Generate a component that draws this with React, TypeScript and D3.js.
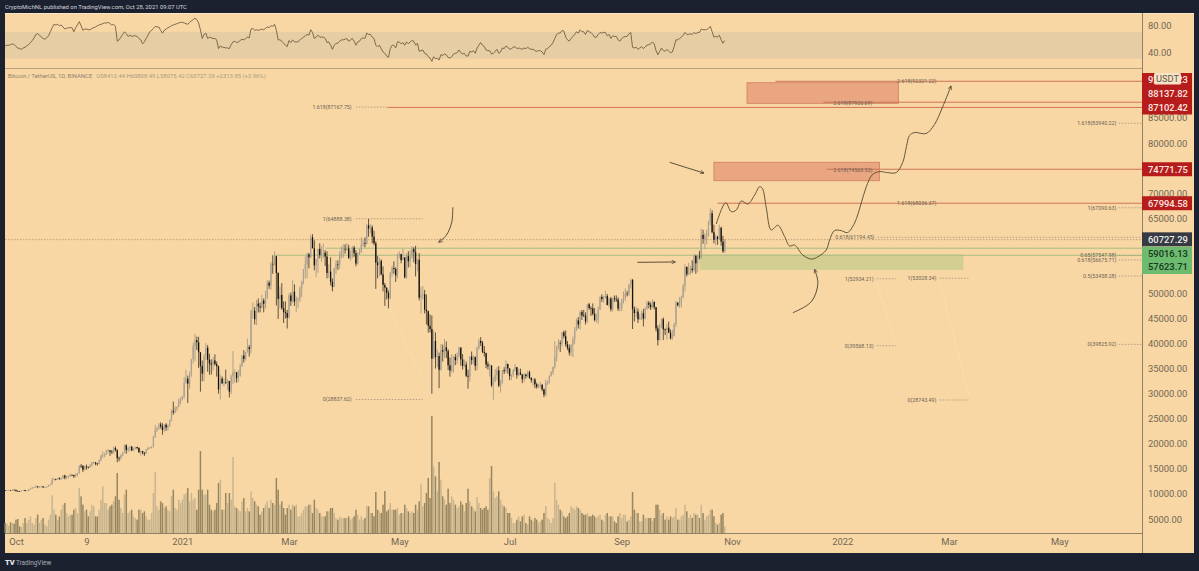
import React, { useEffect, useRef } from 'react';
import * as d3 from 'd3';

// daily candles from 2020-09-25, one line per month, prices in thousands of USDT
const closes = [
  10.7, 10.7, 10.77, 10.69, 10.84, 10.78,
  10.62, 10.57, 10.55, 10.67, 10.79, 10.6, 10.67, 10.92, 11.05, 11.3, 11.37, 11.54, 11.43, 11.43, 11.5, 11.32, 11.36, 11.5, 11.75, 11.92, 12.8, 12.97, 12.93, 13.12, 13.03, 13.07, 13.65, 13.27, 13.46, 13.56, 13.8,
  13.76, 13.55, 14.02, 14.15, 15.59, 15.58, 14.83, 15.48, 15.33, 15.3, 15.7, 16.3, 16.32, 16.07, 15.96, 16.72, 17.66, 17.78, 17.82, 18.66, 18.7, 18.42, 18.37, 19.16, 18.72, 17.15, 17.14, 17.72, 18.18, 19.7,
  18.77, 19.22, 19.43, 18.65, 19.15, 19.36, 19.17, 18.32, 18.55, 18.25, 18.03, 18.8, 19.17, 19.27, 19.43, 21.38, 22.8, 23.1, 23.85, 23.48, 22.75, 23.82, 23.25, 23.72, 24.7, 26.49, 26.28, 27.04, 27.37, 28.88, 28.97,
  29.41, 32.2, 33.0, 31.99, 33.99, 36.82, 39.47, 40.67, 40.24, 38.24, 35.54, 34.01, 37.39, 39.16, 36.77, 36.02, 35.79, 36.63, 35.89, 35.47, 30.85, 33.0, 32.07, 32.28, 32.25, 32.51, 30.4, 33.43, 34.26, 34.26, 33.09,
  33.5, 35.47, 37.62, 36.94, 38.29, 39.26, 38.89, 46.45, 46.53, 44.85, 47.97, 47.4, 47.19, 48.58, 47.91, 49.13, 52.12, 51.55, 55.9, 55.84, 57.41, 54.09, 48.89, 49.68, 47.05, 46.28, 46.11, 45.14,
  49.59, 48.44, 50.35, 48.37, 48.76, 48.88, 50.97, 52.39, 54.88, 55.85, 57.77, 57.22, 61.19, 59.0, 55.6, 56.9, 58.9, 57.65, 58.03, 58.1, 57.35, 54.08, 54.34, 52.3, 51.29, 55.03, 55.82, 55.78, 57.63, 58.76, 58.8,
  58.73, 58.97, 57.06, 58.2, 59.13, 58.02, 55.95, 58.08, 58.13, 59.77, 60.0, 59.86, 63.58, 62.96, 63.16, 61.33, 60.0, 56.15, 55.66, 56.47, 53.8, 51.7, 51.15, 50.1, 49.05, 54.03, 55.07, 54.88, 53.57, 57.75,
  57.83, 56.65, 57.2, 53.2, 57.45, 56.4, 57.36, 58.84, 58.24, 55.85, 56.7, 49.15, 49.68, 49.84, 46.76, 46.43, 43.55, 42.9, 37.0, 40.5, 37.3, 37.5, 34.77, 38.7, 38.4, 39.27, 38.5, 35.66, 34.6, 35.68, 37.3,
  36.69, 37.57, 39.2, 36.85, 35.52, 35.8, 33.58, 33.4, 37.39, 36.69, 37.34, 35.55, 39.02, 40.52, 40.14, 38.35, 38.1, 35.82, 35.48, 35.6, 31.68, 32.5, 33.68, 34.66, 31.6, 32.28, 34.7, 34.5, 35.9, 35.04,
  33.5, 33.8, 34.7, 35.29, 33.69, 34.23, 33.86, 32.88, 33.8, 33.5, 34.26, 33.09, 32.73, 32.82, 31.87, 31.38, 31.52, 31.78, 30.84, 29.79, 32.14, 32.3, 33.6, 34.29, 35.35, 37.34, 39.4, 40.03, 40.01, 42.24, 41.46,
  39.85, 39.15, 38.2, 39.72, 40.87, 42.84, 44.61, 43.8, 46.28, 45.6, 45.55, 44.4, 47.82, 47.09, 47.02, 45.94, 44.69, 44.74, 46.76, 49.32, 48.87, 49.28, 49.5, 47.7, 48.96, 46.84, 49.07, 48.9, 48.8, 46.98, 47.1,
  48.81, 49.25, 49.94, 49.9, 51.76, 52.66, 46.86, 46.07, 46.37, 44.85, 45.15, 46.06, 44.96, 47.1, 48.12, 47.75, 47.26, 48.3, 47.25, 43.0, 40.7, 43.55, 44.86, 42.84, 42.7, 43.16, 42.17, 41.03, 41.5, 43.8,
  48.14, 47.63, 48.2, 49.22, 51.47, 55.31, 53.8, 53.95, 54.95, 54.66, 57.47, 56.0, 57.37, 57.35, 61.67, 60.88, 61.53, 62.0, 64.28, 66.0, 62.2, 60.69, 61.3, 60.85, 63.08, 60.33, 58.41, 60.73,
];

const highs = [
  10.76, 10.78, 10.8, 10.78, 10.86, 10.85,
  10.92, 10.66, 10.6, 10.7, 10.8, 10.8, 10.7, 10.95, 11.1, 11.32, 11.4, 11.72, 11.55, 11.55, 11.62, 11.54, 11.42, 11.5, 11.8, 12.0, 13.2, 13.2, 13.03, 13.15, 13.35, 13.24, 13.79, 13.84, 13.62, 13.68, 14.1,
  13.86, 13.83, 14.07, 14.25, 15.75, 15.96, 15.77, 15.65, 15.85, 15.48, 15.97, 16.34, 16.48, 16.33, 16.17, 16.88, 17.86, 18.48, 18.14, 18.8, 18.97, 18.75, 18.77, 19.42, 19.48, 18.92, 17.45, 17.9, 18.35, 19.86,
  19.9, 19.3, 19.6, 19.55, 19.2, 19.42, 19.42, 19.3, 18.65, 18.6, 18.3, 18.95, 19.4, 19.35, 19.55, 21.56, 23.8, 23.3, 24.17, 24.3, 24.1, 23.84, 24.1, 23.8, 24.8, 26.87, 28.42, 27.5, 27.41, 28.99, 29.3,
  29.6, 33.3, 34.78, 33.6, 34.4, 36.94, 40.18, 41.95, 41.38, 41.35, 38.26, 36.6, 37.85, 40.1, 39.7, 37.95, 36.85, 37.3, 37.85, 36.4, 35.6, 33.83, 33.45, 33.07, 34.8, 32.9, 32.55, 33.78, 38.5, 34.85, 34.35,
  34.7, 35.98, 37.65, 38.7, 38.3, 40.95, 39.7, 46.8, 48.2, 47.3, 48.68, 48.98, 48.15, 49.7, 49.0, 50.5, 52.62, 52.55, 56.3, 57.6, 58.35, 57.5, 54.2, 51.37, 52.05, 48.4, 48.4, 46.7,
  50.0, 50.2, 52.6, 51.8, 49.4, 49.2, 51.4, 52.5, 54.9, 57.4, 58.15, 58.05, 61.7, 61.8, 60.6, 56.9, 58.9, 60.0, 59.45, 59.9, 58.6, 58.4, 55.8, 57.2, 53.0, 55.1, 56.6, 56.6, 58.4, 59.4, 59.8,
  59.8, 60.0, 59.7, 58.5, 59.4, 59.5, 58.65, 58.2, 58.9, 61.2, 60.7, 61.2, 63.8, 64.85, 63.8, 63.6, 62.5, 60.4, 57.5, 57.1, 56.8, 55.4, 52.1, 51.2, 50.6, 54.3, 55.5, 56.4, 55.2, 58.0,
  58.4, 57.9, 58.9, 57.2, 58.0, 58.4, 58.6, 59.4, 59.2, 59.5, 56.9, 58.0, 51.3, 51.5, 50.7, 49.8, 46.6, 45.8, 45.6, 42.6, 42.2, 38.8, 38.2, 39.9, 39.8, 40.9, 40.4, 38.9, 37.2, 37.9, 37.5,
  37.9, 38.2, 39.4, 39.25, 37.9, 36.8, 36.4, 34.8, 37.5, 38.4, 37.7, 37.4, 39.4, 41.0, 41.3, 40.5, 39.5, 38.2, 36.4, 36.0, 35.7, 33.3, 34.9, 35.3, 35.5, 32.7, 34.7, 35.3, 36.6, 36.0,
  35.0, 33.9, 34.9, 35.9, 35.3, 35.0, 35.0, 33.9, 34.1, 34.0, 34.6, 34.6, 33.3, 33.1, 33.1, 32.2, 31.9, 32.4, 31.9, 31.0, 32.8, 32.6, 33.6, 34.5, 35.4, 40.5, 39.5, 40.9, 40.6, 42.3, 42.6,
  42.6, 40.5, 39.8, 39.9, 41.4, 43.3, 45.0, 45.3, 46.5, 46.7, 46.7, 46.2, 47.9, 48.1, 47.4, 48.0, 47.1, 46.0, 47.4, 49.4, 49.8, 49.5, 50.5, 49.9, 49.2, 49.3, 49.2, 49.6, 49.6, 49.2, 48.2,
  48.9, 50.4, 51.0, 50.5, 51.9, 52.95, 52.9, 47.4, 47.3, 47.0, 45.9, 46.5, 46.9, 47.2, 48.5, 48.5, 48.2, 48.8, 48.4, 47.3, 43.6, 44.0, 45.0, 45.2, 43.0, 43.9, 44.4, 42.8, 42.7, 44.1,
  48.5, 48.3, 49.3, 49.5, 51.9, 55.8, 55.3, 56.1, 55.5, 56.6, 57.8, 57.7, 57.7, 58.5, 62.9, 62.7, 62.0, 62.7, 64.5, 67.0, 66.6, 63.7, 61.7, 61.5, 63.7, 63.3, 61.5, 60.8,
];

const lows = [
  10.6, 10.63, 10.64, 10.64, 10.64, 10.67,
  10.44, 10.37, 10.5, 10.52, 10.64, 10.53, 10.56, 10.53, 10.85, 11.0, 11.2, 11.2, 11.15, 11.25, 11.25, 11.2, 11.2, 11.22, 11.41, 11.7, 11.88, 12.68, 12.7, 12.88, 12.8, 12.77, 13.0, 12.9, 12.97, 13.12, 13.4,
  13.55, 13.2, 13.3, 13.53, 14.09, 15.2, 14.34, 14.7, 14.85, 15.08, 15.28, 15.47, 15.96, 15.7, 15.66, 15.9, 16.53, 17.21, 17.35, 17.77, 18.2, 17.61, 18.0, 18.0, 18.47, 16.33, 16.5, 16.85, 17.5, 18.18,
  18.0, 18.33, 18.5, 18.6, 18.5, 18.86, 18.9, 18.2, 17.65, 17.9, 17.57, 18.02, 19.0, 19.0, 19.05, 19.28, 21.2, 22.35, 22.75, 23.06, 21.8, 22.35, 22.6, 22.7, 23.4, 24.5, 25.8, 26.1, 26.5, 27.3, 27.9,
  28.62, 29.0, 32.0, 28.13, 31.0, 33.4, 36.0, 36.5, 38.7, 35.1, 30.4, 32.5, 32.4, 36.7, 34.4, 33.8, 33.8, 34.6, 35.6, 33.4, 30.0, 28.85, 31.9, 31.4, 31.9, 30.8, 29.24, 29.9, 31.9, 32.2, 32.2,
  32.3, 33.4, 35.35, 36.2, 36.6, 38.2, 37.4, 38.05, 45.0, 43.8, 43.7, 46.2, 46.2, 47.0, 46.2, 47.0, 48.9, 50.9, 50.7, 53.9, 55.5, 47.6, 44.9, 47.0, 46.7, 44.1, 45.0, 43.0,
  45.0, 47.5, 48.1, 47.5, 46.3, 47.1, 48.3, 49.3, 51.8, 53.0, 53.0, 55.0, 57.0, 59.0, 54.6, 53.2, 54.1, 57.0, 56.3, 57.0, 55.45, 53.0, 53.1, 51.6, 50.4, 51.3, 53.9, 54.7, 54.9, 57.0, 57.1,
  57.9, 58.4, 56.9, 56.5, 57.0, 57.3, 55.4, 55.7, 57.7, 59.2, 59.3, 59.2, 59.8, 61.3, 62.0, 60.0, 59.6, 50.9, 53.0, 53.4, 53.6, 50.4, 47.5, 48.8, 47.0, 48.8, 53.3, 53.9, 52.3, 53.0,
  57.0, 56.0, 56.9, 53.0, 52.9, 55.2, 55.2, 56.9, 56.2, 53.4, 54.4, 48.6, 46.0, 48.8, 46.0, 43.8, 42.2, 42.2, 30.0, 38.6, 35.0, 35.3, 31.1, 34.6, 36.4, 37.2, 37.1, 34.7, 33.4, 34.2, 34.2,
  35.7, 35.9, 37.2, 35.6, 34.8, 35.3, 33.3, 31.0, 32.4, 35.8, 35.9, 34.6, 34.7, 38.8, 39.5, 38.1, 37.4, 35.1, 34.8, 33.4, 31.3, 28.8, 32.3, 32.7, 31.3, 30.2, 32.0, 33.9, 34.2, 34.0,
  32.7, 32.7, 33.3, 34.4, 33.0, 33.5, 33.7, 32.1, 32.3, 33.0, 33.3, 33.0, 32.2, 31.6, 31.1, 31.0, 31.1, 31.1, 30.5, 29.3, 29.5, 31.7, 32.0, 33.4, 33.8, 35.0, 36.4, 38.8, 38.3, 39.4, 41.0,
  39.4, 38.7, 37.6, 37.5, 37.3, 39.9, 42.5, 43.0, 42.8, 44.7, 45.3, 43.8, 44.1, 46.7, 45.5, 45.6, 44.4, 44.2, 43.9, 46.7, 48.3, 48.1, 49.0, 47.6, 47.2, 46.4, 46.4, 48.3, 48.3, 46.5, 46.4,
  46.5, 48.0, 48.5, 49.4, 49.5, 51.0, 42.9, 44.4, 45.3, 44.1, 44.7, 44.7, 43.4, 44.8, 46.7, 47.0, 46.7, 47.0, 46.8, 42.4, 39.6, 40.6, 43.1, 40.7, 41.7, 40.8, 42.1, 40.8, 40.75, 41.4,
  43.3, 47.4, 47.1, 47.2, 49.0, 50.4, 53.4, 53.7, 53.7, 54.1, 54.4, 53.9, 54.2, 56.8, 56.9, 59.9, 58.9, 59.8, 61.3, 63.6, 62.0, 60.0, 59.6, 59.7, 60.7, 59.5, 58.1, 58.08,
];

// thousands of BTC
const volumes = [
  30, 28, 22, 32, 30, 28,
  40, 42, 20, 18, 30, 45, 30, 40, 50, 30, 25, 45, 55, 30, 40, 45, 25, 20, 40, 55, 113, 70, 55, 40, 50, 70, 85, 90, 60, 50, 55,
  55, 70, 75, 60, 135, 110, 85, 65, 70, 50, 65, 85, 80, 50, 50, 70, 100, 140, 90, 90, 70, 80, 85, 95, 110, 180, 100, 75, 60, 115,
  130, 60, 65, 70, 50, 45, 40, 70, 70, 60, 65, 50, 40, 40, 60, 120, 183, 80, 70, 95, 90, 75, 80, 70, 65, 110, 130, 75, 70, 100, 90,
  100, 115, 120, 135, 95, 120, 100, 105, 70, 130, 246, 130, 115, 115, 130, 85, 70, 65, 70, 90, 150, 160, 70, 70, 120, 90, 120, 100, 228, 80, 75,
  70, 65, 95, 105, 65, 75, 65, 125, 105, 95, 85, 80, 55, 65, 75, 85, 95, 75, 100, 90, 85, 165, 130, 85, 95, 75, 55, 75,
  85, 70, 85, 80, 85, 50, 50, 60, 70, 80, 80, 85, 85, 60, 100, 75, 70, 60, 50, 50, 50, 65, 65, 75, 75, 60, 45, 40, 50, 45, 45,
  45, 45, 50, 40, 45, 50, 70, 55, 40, 50, 40, 45, 81, 80, 60, 60, 50, 123, 70, 65, 60, 85, 126, 65, 70, 90, 70, 70, 70, 75,
  55, 60, 60, 85, 75, 65, 60, 65, 60, 85, 70, 95, 146, 80, 90, 120, 165, 105, 351, 200, 170, 125, 213, 160, 110, 100, 85, 133, 90, 110, 100,
  85, 75, 80, 95, 85, 65, 90, 133, 95, 80, 75, 65, 108, 90, 75, 70, 75, 80, 70, 165, 201, 125, 105, 110, 125, 100, 85, 80, 75, 60,
  60, 45, 30, 30, 40, 50, 35, 50, 55, 30, 25, 50, 40, 35, 45, 40, 30, 35, 40, 60, 81, 45, 40, 30, 45, 150, 100, 85, 70, 65, 50,
  45, 50, 60, 80, 75, 70, 80, 75, 70, 60, 55, 55, 60, 50, 50, 55, 50, 45, 50, 55, 40, 35, 55, 60, 50, 50, 50, 35, 30, 50, 60,
  45, 55, 55, 35, 40, 50, 123, 70, 60, 60, 35, 35, 55, 45, 45, 45, 45, 35, 45, 85, 85, 70, 55, 60, 40, 50, 40, 50, 45, 50,
  75, 40, 40, 50, 55, 85, 65, 45, 55, 45, 60, 55, 55, 45, 85, 60, 40, 50, 55, 70, 70, 50, 30, 25, 30, 55, 60, 20,
];

const rsiValues = [
  49, 50, 50, 51, 52, 51,
  48, 46, 45, 44, 46, 47, 49, 51, 54, 57, 61, 66, 67, 65, 62, 60, 59, 61, 64, 70, 76, 81, 80, 81, 79, 80, 77, 74, 75, 76, 76,
  76, 70, 76, 80, 85, 79, 72, 74, 74, 73, 73, 75, 76, 77, 79, 80, 81, 82, 83, 83, 84, 82, 80, 81, 78, 56, 58, 62, 66, 70,
  67, 63, 65, 63, 64, 64, 63, 60, 58, 52, 55, 60, 65, 70, 72, 75, 78, 77, 77, 72, 68, 72, 74, 76, 77, 79, 80, 81, 82, 83, 84,
  84, 83, 82, 81, 84, 86, 88, 90, 88, 83, 73, 60, 66, 68, 60, 62, 61, 60, 60, 58, 45, 49, 47, 47, 46, 46, 45, 51, 55, 56, 54,
  55, 57, 59, 58, 60, 62, 61, 74, 75, 72, 73, 72, 73, 74, 73, 75, 77, 76, 79, 78, 81, 72, 58, 58, 56, 53, 50, 48,
  57, 54, 58, 55, 55, 55, 58, 60, 62, 64, 66, 65, 73, 69, 60, 62, 65, 62, 62, 62, 60, 54, 55, 50, 44, 50, 53, 53, 56, 58, 58,
  59, 60, 56, 58, 60, 56, 50, 55, 56, 60, 61, 60, 68, 66, 66, 62, 60, 50, 48, 50, 45, 40, 38, 34, 32, 45, 50, 50, 46, 55,
  55, 52, 54, 50, 55, 52, 55, 57, 56, 50, 53, 41, 42, 43, 38, 37, 33, 31, 26, 33, 30, 31, 28, 36, 35, 37, 36, 32, 31, 33, 37,
  38, 39, 43, 39, 37, 38, 34, 34, 41, 40, 42, 38, 46, 50, 54, 50, 48, 43, 42, 42, 37, 38, 41, 44, 38, 40, 46, 45, 49, 47,
  44, 45, 47, 48, 45, 46, 45, 44, 46, 45, 47, 45, 44, 44, 42, 41, 42, 42, 40, 36, 44, 45, 48, 50, 54, 60, 66, 68, 68, 72, 71,
  62, 58, 56, 60, 63, 66, 70, 68, 73, 70, 70, 66, 72, 70, 69, 66, 62, 62, 66, 69, 68, 69, 69, 64, 66, 60, 64, 63, 63, 58, 56,
  60, 62, 63, 63, 67, 69, 47, 46, 47, 44, 46, 48, 45, 48, 50, 51, 52, 55, 52, 42, 36, 41, 46, 42, 41, 44, 41, 39, 40, 48,
  58, 58, 60, 62, 65, 69, 66, 66, 67, 66, 69, 67, 69, 69, 74, 73, 73, 73, 75, 78, 70, 62, 63, 62, 65, 58, 53, 57,
];

const firstOpen = 10.76;
// 55000, 60000 and 75000 sit under the axis tags in the picture
const priceTicks = [5, 10, 15, 20, 25, 30, 35, 40, 45, 50, 65, 70, 80, 85];
const rsiTicks = [80, 40];
const timeTicks: [string, string][] = [
  ['Oct', '2020-10-01'],
  ['9', '2020-11-09'],
  ['2021', '2021-01-01'],
  ['Mar', '2021-03-01'],
  ['May', '2021-05-01'],
  ['Jul', '2021-07-01'],
  ['Sep', '2021-09-01'],
  ['Nov', '2021-11-01'],
  ['2022', '2022-01-01'],
  ['Mar', '2022-03-01'],
  ['May', '2022-05-01'],
];

// axis tags: label, price level of the tag centre (pushed apart so they do not collide), fill, text
const tags: [string, number, string, string][] = [
  ['92321.23', 92.57, '#b71c1c', '#fbe9e0'],
  ['88137.82', 89.78, '#b71c1c', '#fbe9e0'],
  ['87102.42', 87.09, '#b71c1c', '#fbe9e0'],
  ['74771.75', 74.77, '#b71c1c', '#fbe9e0'],
  ['67994.58', 67.99, '#b71c1c', '#fbe9e0'],
  ['60727.29', 60.79, '#363a45', '#f0eee8'],
  ['59016.13', 57.92, '#6cbb6e', '#17361d'],
  ['57623.71', 55.27, '#6cbb6e', '#17361d'],
];

// [day after 2020-10-01 where the line starts, price]
const redLines = [
  [420, 92.32],
  [446.6, 88.14],
  [205.6, 87.1],
  [448.3, 74.77],
  [388, 67.99],
];
const greenLines = [
  [171, 59.02],
  [143, 57.62],
];
// [first day, last day, top price, bottom price]
const redZones = [
  [404.3, 488, 92.03, 87.92],
  [386, 477.6, 76.16, 72.48],
];
const greenZones = [[378, 524, 57.76, 54.67]];

// [label, day of label end, price, dots from day, dots to day]
const fibLabels: [string, number, number, number, number][] = [
  ['1(64888.38)', 185.7, 64.89, 188, 225],
  ['0(28837.62)', 185.7, 28.84, 188, 225],
  ['1.618(87167.75)', 185.7, 87.17, 188, 205.6],
  ['1.618(83940.22)', 608.6, 83.94, 610, 622.6],
  ['1(67090.63)', 608.6, 67.09, 610, 622.6],
  ['0.618(61194.45)', 474.8, 61.19, 476.5, 622.6],
  ['0.65(57547.98)', 608.6, 57.55, 610, 622.6],
  ['0.618(56675.71)', 608.6, 56.68, 610, 622.6],
  ['0.5(53458.28)', 608.6, 53.46, 610, 622.6],
  ['1(52934.21)', 474.3, 52.93, 476, 486.5],
  ['1(53028.34)', 509, 53.03, 511, 527],
  ['0(39568.13)', 474.3, 39.57, 476, 486.5],
  ['0(39825.92)', 608.6, 39.83, 610, 622.6],
  ['0(28743.49)', 509, 28.74, 511, 527],
  ['2.618(92321.22)', 509, 92.32, 509, 509],
  ['2.618(87926.69)', 473.7, 87.93, 473.7, 473.7],
  ['2.618(74560.53)', 473.7, 74.56, 473.7, 473.7],
  ['1.618(68036.37)', 509, 68.04, 509, 509],
];

// faint diagonals joining the fib levels: [day, price, day, price]
const fibDiagonals = [
  [206, 47.6, 225, 32.7],
  [476, 52.2, 486.5, 40.6],
  [511, 52.2, 527, 29.6],
];

// projected path drawn by hand
const projection: [number, number][] = [
  [387.3, 63.85], [392.5, 68.1], [395.6, 66.31], [398.4, 66.64], [401.2, 68.44], [404.8, 67.84],
  [408.5, 69.63], [411.3, 71.28], [412.8, 70.95], [415, 67.0], [417.7, 62.65], [421.4, 63.59],
  [425.1, 61.35], [427.9, 59.46], [430.6, 59.66], [435.2, 57.65], [439.9, 56.85], [443.5, 57.3],
  [448.1, 58.65], [450, 60.67], [452.7, 62.53], [456.4, 62.53], [459.9, 62.14], [463.8, 64.04],
  [467.5, 68.04], [470.3, 71.3], [473.7, 73.7], [477.6, 74.3], [482, 74.1], [486.8, 74.1],
  [490.4, 76.1], [492.5, 79.3], [494.2, 81.5], [497, 82.1], [503.4, 81.9], [508, 83.7],
  [512.4, 87.1], [517.2, 91.4],
];
const arrows: [number, number][][] = [
  [[241.6, 67.2], [241, 64.2], [238, 61.6], [233.8, 60.2]],
  [[361.5, 76.15], [380.5, 74.0]],
  [[343.7, 56.2], [364.7, 56.27]],
  [[429.7, 46.15], [439.9, 48.35], [443.5, 52], [441.7, 54.8]],
];

const W = 1199;
const H = 571;
const LEFT = 5;
const AXIS_X = 1142;
const RIGHT = 1194;
const TOP = 13;
const BOTTOM = 553;
const VOL_BASE = 533;

const DARK = '#1b212e';
const PAPER = '#f9d7a4';
const AXIS_TEXT = '#6f6656';
const FONT = 'Roboto, sans-serif';

const App: React.FC = () => {
  const svgRef = useRef<SVGSVGElement>(null);

  useEffect(() => {
    if (svgRef.current) drawChart(svgRef.current);
  }, []);

  return (
    <svg
      ref={svgRef}
      width={W}
      height={H}
      style={{ position: 'absolute', left: 0, top: 0, display: 'block' }}
    />
  );
};

const drawChart = (node: SVGSVGElement) => {
  const svg = d3.select(node);
  svg.selectAll('*').remove();

  const xScale = d3
    .scaleUtc()
    .domain([new Date('2020-10-01'), new Date('2021-11-01')])
    .range([16, 732]);
  const yScale = d3.scaleLinear().domain([5, 85]).range([519, 117.96]);
  const rsiScale = d3.scaleLinear().domain([80, 40]).range([25, 52]);
  const volScale = d3.scaleLinear().domain([0, 351]).range([VOL_BASE, 416]);

  const dayX = (day: number) => xScale(d3.utcHour.offset(new Date('2020-10-01'), day * 24));
  const barX = (i: number) => dayX(i - 6);

  const candles = closes.map((close, i) => {
    const open = i === 0 ? firstOpen : closes[i - 1];
    return {
      i,
      open,
      close,
      high: Math.max(highs[i], open, close),
      low: Math.min(lows[i], open, close),
      volume: volumes[i],
      rsi: rsiValues[i],
    };
  });

  svg.append('rect').attr('width', W).attr('height', H).attr('fill', DARK);
  svg
    .append('rect')
    .attr('x', LEFT)
    .attr('y', TOP)
    .attr('width', RIGHT - LEFT)
    .attr('height', BOTTOM - TOP)
    .attr('fill', PAPER);
  svg
    .append('line')
    .attr('x1', LEFT)
    .attr('x2', RIGHT)
    .attr('y1', TOP + 0.5)
    .attr('y2', TOP + 0.5)
    .attr('stroke', '#fbe6c6');

  // rsi pane
  svg
    .append('rect')
    .attr('x', LEFT)
    .attr('width', AXIS_X - LEFT)
    .attr('y', rsiScale(70))
    .attr('height', rsiScale(30) - rsiScale(70))
    .attr('fill', '#e7cda3');
  const rsiLine = d3
    .line<(typeof candles)[number]>()
    .x((d) => barX(d.i))
    .y((d) => rsiScale(d.rsi));
  svg
    .append('path')
    .attr('d', rsiLine(candles) || '')
    .attr('fill', 'none')
    .attr('stroke', '#6f5f45')
    .attr('stroke-width', 0.9);
  svg
    .append('line')
    .attr('x1', LEFT)
    .attr('x2', AXIS_X)
    .attr('y1', 68.5)
    .attr('y2', 68.5)
    .attr('stroke', '#b9a37f');

  // zones
  svg
    .append('g')
    .selectAll('rect')
    .data(redZones)
    .enter()
    .append('rect')
    .attr('x', (d) => dayX(d[0]))
    .attr('width', (d) => dayX(d[1]) - dayX(d[0]))
    .attr('y', (d) => yScale(d[2]))
    .attr('height', (d) => yScale(d[3]) - yScale(d[2]))
    .attr('fill', '#e9a681')
    .attr('stroke', '#cf7f5f')
    .attr('stroke-width', 0.8);
  svg
    .append('g')
    .selectAll('rect')
    .data(greenZones)
    .enter()
    .append('rect')
    .attr('x', (d) => dayX(d[0]))
    .attr('width', (d) => dayX(d[1]) - dayX(d[0]))
    .attr('y', (d) => yScale(d[2]))
    .attr('height', (d) => yScale(d[3]) - yScale(d[2]))
    .attr('fill', '#d3cf92');

  // level lines
  svg
    .append('line')
    .attr('x1', LEFT)
    .attr('x2', AXIS_X)
    .attr('y1', yScale(60.73))
    .attr('y2', yScale(60.73))
    .attr('stroke', '#c3a078')
    .attr('stroke-dasharray', '1.5 1.5');
  svg
    .append('g')
    .selectAll('line')
    .data(redLines)
    .enter()
    .append('line')
    .attr('x1', (d) => dayX(d[0]))
    .attr('x2', AXIS_X)
    .attr('y1', (d) => yScale(d[1]))
    .attr('y2', (d) => yScale(d[1]))
    .attr('stroke', '#cf7355')
    .attr('stroke-width', 1);
  svg
    .append('g')
    .selectAll('line')
    .data(greenLines)
    .enter()
    .append('line')
    .attr('x1', (d) => dayX(d[0]))
    .attr('x2', AXIS_X)
    .attr('y1', (d) => yScale(d[1]))
    .attr('y2', (d) => yScale(d[1]))
    .attr('stroke', '#a6bd7f')
    .attr('stroke-width', 1);

  // fib diagonals, dots and labels
  svg
    .append('g')
    .selectAll('line')
    .data(fibDiagonals)
    .enter()
    .append('line')
    .attr('x1', (d) => dayX(d[0]))
    .attr('y1', (d) => yScale(d[1]))
    .attr('x2', (d) => dayX(d[2]))
    .attr('y2', (d) => yScale(d[3]))
    .attr('stroke', '#fbe6c6')
    .attr('stroke-dasharray', '1.5 1.5')
    .attr('stroke-width', 0.8);
  svg
    .append('g')
    .selectAll('line')
    .data(fibLabels.filter((d) => d[4] > d[3]))
    .enter()
    .append('line')
    .attr('x1', (d) => dayX(d[3]))
    .attr('x2', (d) => dayX(d[4]))
    .attr('y1', (d) => yScale(d[2]))
    .attr('y2', (d) => yScale(d[2]))
    .attr('stroke', '#a3937a')
    .attr('stroke-dasharray', '1.5 1.5')
    .attr('stroke-width', 0.8);
  svg
    .append('g')
    .selectAll('text')
    .data(fibLabels)
    .enter()
    .append('text')
    .attr('x', (d) => dayX(d[1]))
    .attr('y', (d) => yScale(d[2]) + 1.8)
    .attr('text-anchor', 'end')
    .attr('font-family', FONT)
    .attr('font-size', 5.3)
    .attr('fill', '#6a6355')
    .text((d) => d[0]);

  // volume
  svg
    .append('g')
    .selectAll('rect')
    .data(candles)
    .enter()
    .append('rect')
    .attr('x', (d) => barX(d.i) - 0.75)
    .attr('width', 1.5)
    .attr('y', (d) => volScale(d.volume))
    .attr('height', (d) => VOL_BASE - volScale(d.volume))
    .attr('fill', (d) => (d.close >= d.open ? '#c8b590' : '#978660'));

  // candles
  const candleG = svg
    .append('g')
    .selectAll('g')
    .data(candles)
    .enter()
    .append('g');
  candleG
    .append('line')
    .attr('x1', (d) => barX(d.i))
    .attr('x2', (d) => barX(d.i))
    .attr('y1', (d) => yScale(d.high))
    .attr('y2', (d) => yScale(d.low))
    .attr('stroke', (d) => (d.close >= d.open ? '#8f897c' : '#1c1a16'))
    .attr('stroke-width', 0.7);
  candleG
    .append('rect')
    .attr('x', (d) => barX(d.i) - 0.65)
    .attr('width', 1.3)
    .attr('y', (d) => yScale(Math.max(d.open, d.close)))
    .attr('height', (d) => Math.max(0.6, Math.abs(yScale(d.open) - yScale(d.close))))
    .attr('fill', (d) => (d.close >= d.open ? '#a8a297' : '#14120f'));

  // hand drawn arrows and projection
  const defs = svg.append('defs');
  defs
    .append('marker')
    .attr('id', 'head')
    .attr('viewBox', '0 0 6 6')
    .attr('refX', 5.5)
    .attr('refY', 3)
    .attr('markerWidth', 5)
    .attr('markerHeight', 5)
    .attr('orient', 'auto')
    .append('path')
    .attr('d', 'M0.5,0.5L5.5,3L0.5,5.5')
    .attr('fill', 'none')
    .attr('stroke', '#4a3f2e')
    .attr('stroke-width', 0.9);
  const handLine = d3
    .line<[number, number]>()
    .x((d) => dayX(d[0]))
    .y((d) => yScale(d[1]))
    .curve(d3.curveCatmullRom);
  svg
    .append('path')
    .attr('d', handLine(projection) || '')
    .attr('fill', 'none')
    .attr('stroke', '#54482f')
    .attr('stroke-width', 0.9)
    .attr('marker-end', 'url(#head)');
  svg
    .append('g')
    .selectAll('path')
    .data(arrows)
    .enter()
    .append('path')
    .attr('d', (d) => handLine(d) || '')
    .attr('fill', 'none')
    .attr('stroke', '#4a3f2e')
    .attr('stroke-width', 0.9)
    .attr('marker-end', 'url(#head)');

  // axes
  const priceAxis = svg
    .append('g')
    .attr('transform', `translate(${AXIS_X}, 0)`)
    .call(
      d3
        .axisRight(yScale)
        .tickValues(priceTicks)
        .tickSize(0)
        .tickPadding(6)
        .tickFormat((d) => `${(d as number) * 1000}.00`)
    );
  const rsiAxis = svg
    .append('g')
    .attr('transform', `translate(${AXIS_X}, 0)`)
    .call(
      d3
        .axisRight(rsiScale)
        .tickValues(rsiTicks)
        .tickSize(0)
        .tickPadding(6)
        .tickFormat((d) => `${d}.00`)
    );
  const timeAxis = svg
    .append('g')
    .attr('transform', `translate(0, ${VOL_BASE})`)
    .call(
      d3
        .axisBottom(xScale)
        .tickValues(timeTicks.map((d) => new Date(d[1])))
        .tickSize(0)
        .tickPadding(5)
        .tickFormat((d, i) => timeTicks[i][0])
    );
  [priceAxis, rsiAxis, timeAxis].forEach((axis) => {
    axis.selectAll('.domain').remove();
    axis
      .selectAll('text')
      .attr('font-family', FONT)
      .attr('font-size', 9.4)
      .attr('fill', AXIS_TEXT);
  });

  svg
    .append('line')
    .attr('x1', LEFT)
    .attr('x2', AXIS_X)
    .attr('y1', VOL_BASE + 0.5)
    .attr('y2', VOL_BASE + 0.5)
    .attr('stroke', '#8f8168');
  svg
    .append('line')
    .attr('x1', AXIS_X + 0.5)
    .attr('x2', AXIS_X + 0.5)
    .attr('y1', TOP)
    .attr('y2', BOTTOM)
    .attr('stroke', '#8f8168');

  // axis tags
  const tagG = svg
    .append('g')
    .selectAll('g')
    .data(tags)
    .enter()
    .append('g')
    .attr('transform', (d) => `translate(${AXIS_X}, ${yScale(d[1])})`);
  tagG
    .append('rect')
    .attr('y', -7)
    .attr('width', 50)
    .attr('height', 14)
    .attr('fill', (d) => d[2]);
  tagG
    .append('text')
    .attr('x', 6)
    .attr('y', 3.4)
    .attr('font-family', FONT)
    .attr('font-weight', 500)
    .attr('font-size', 9.4)
    .attr('fill', (d) => d[3])
    .text((d) => d[0]);

  // usdt badge
  svg
    .append('rect')
    .attr('x', 1154)
    .attr('y', 73)
    .attr('width', 27)
    .attr('height', 11.5)
    .attr('rx', 1.5)
    .attr('fill', '#f8e3c6');
  svg
    .append('text')
    .attr('x', 1167.5)
    .attr('y', 82)
    .attr('text-anchor', 'middle')
    .attr('font-family', FONT)
    .attr('font-size', 9.2)
    .attr('fill', '#5e5648')
    .text('USDT');

  // header, legend, footer
  svg
    .append('text')
    .attr('x', 5)
    .attr('y', 9)
    .attr('font-family', FONT)
    .attr('font-size', 5.85)
    .attr('fill', '#d3d6dc')
    .text('CryptoMichNL published on TradingView.com, Oct 28, 2021 09:07 UTC');
  const legend = svg
    .append('text')
    .attr('x', 8)
    .attr('y', 78)
    .attr('font-family', FONT)
    .attr('font-size', 5.9)
    .attr('fill', '#8c8370');
  legend.append('tspan').text('Bitcoin / TetherUS, 1D, BINANCE');
  legend
    .append('tspan')
    .attr('fill', '#a89c82')
    .attr('dx', 4)
    .text('O58413.44  H60808.49  L58075.42  C60727.29  +2313.85 (+3.96%)');
  svg
    .append('text')
    .attr('x', 5)
    .attr('y', 565)
    .attr('font-family', FONT)
    .attr('font-weight', 900)
    .attr('font-size', 7.5)
    .attr('fill', '#e4e6ea')
    .text('TV');
  svg
    .append('text')
    .attr('x', 16)
    .attr('y', 565)
    .attr('font-family', FONT)
    .attr('font-size', 6.4)
    .attr('fill', '#aab0ba')
    .text('TradingView');
};

export default App;
